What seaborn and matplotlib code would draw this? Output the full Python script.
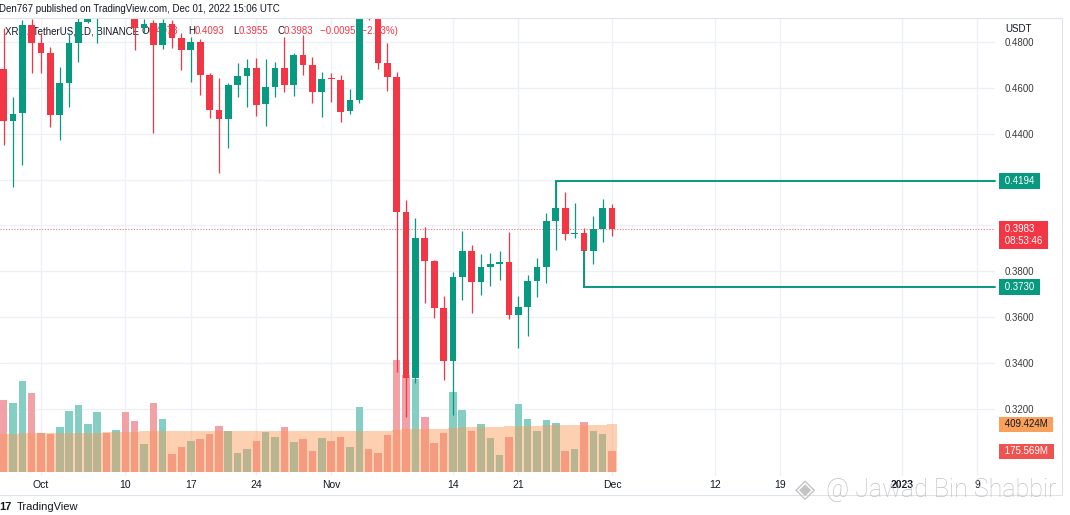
import matplotlib
matplotlib.use("Agg")
import matplotlib.pyplot as plt
import matplotlib.dates as mdates
import matplotlib.transforms as mtransforms
import numpy as np
import pandas as pd
import seaborn as sns

# XRP/USDT daily candles, 27 Sep 2022 -> 1 Dec 2022
# (values above ~0.49 sit off the top of the visible chart, so they are rough guesses)
dates = pd.date_range("2022-09-27", "2022-12-01", freq="D")

opens = [0.4683, 0.4458, 0.4490, 0.4876, 0.4798, 0.4752, 0.4483, 0.4621, 0.4796, 0.4890,
         0.4950, 0.5080, 0.5020, 0.5060, 0.4990, 0.4862, 0.4883, 0.4788, 0.4880, 0.4817,
         0.4766, 0.4803, 0.4657, 0.4504, 0.4466, 0.4612, 0.4653, 0.4686, 0.4529, 0.4603,
         0.4689, 0.4612, 0.4745, 0.4701, 0.4584, 0.4641, 0.4635, 0.4500, 0.4548, 0.5120,
         0.5060, 0.4708, 0.4647, 0.4060, 0.3333, 0.3944, 0.3846, 0.3638, 0.3410, 0.3776,
         0.3889, 0.3755, 0.3820, 0.3832, 0.3842, 0.3609, 0.3645, 0.3758, 0.3817, 0.4020,
         0.4078, 0.3962, 0.3965, 0.3889, 0.3983, 0.4078]
highs = [0.4862, 0.4561, 0.4897, 0.4902, 0.4841, 0.4781, 0.4693, 0.4841, 0.4930, 0.5000,
         0.5130, 0.5150, 0.5100, 0.5110, 0.5020, 0.4900, 0.4897, 0.4900, 0.4897, 0.4841,
         0.4822, 0.4813, 0.4666, 0.4643, 0.4620, 0.4708, 0.4726, 0.4730, 0.4726, 0.4715,
         0.4822, 0.4755, 0.4832, 0.4737, 0.4672, 0.4667, 0.4657, 0.4596, 0.5180, 0.5220,
         0.5100, 0.4798, 0.4672, 0.4111, 0.4031, 0.3992, 0.3850, 0.3692, 0.3798, 0.3977,
         0.3915, 0.3876, 0.3881, 0.3890, 0.3973, 0.3692, 0.3784, 0.3857, 0.4053, 0.4194,
         0.4148, 0.4097, 0.3988, 0.4041, 0.4116, 0.4093]
lows = [0.4351, 0.4169, 0.4264, 0.4666, 0.4666, 0.4431, 0.4373, 0.4519, 0.4715, 0.4885,
        0.4798, 0.4990, 0.4960, 0.4940, 0.4766, 0.4841, 0.4403, 0.4770, 0.4774, 0.4679,
        0.4628, 0.4570, 0.4468, 0.4228, 0.4337, 0.4560, 0.4519, 0.4478, 0.4434, 0.4560,
        0.4583, 0.4565, 0.4657, 0.4536, 0.4475, 0.4541, 0.4453, 0.4487, 0.4534, 0.4897,
        0.4682, 0.4589, 0.3362, 0.3165, 0.3311, 0.3660, 0.3595, 0.3325, 0.3172, 0.3675,
        0.3617, 0.3696, 0.3736, 0.3762, 0.3590, 0.3464, 0.3517, 0.3686, 0.3748, 0.3893,
        0.3937, 0.3944, 0.3730, 0.3832, 0.3929, 0.3955]
closes = [0.4456, 0.4487, 0.4876, 0.4798, 0.4752, 0.4483, 0.4621, 0.4796, 0.4890, 0.4950,
          0.5080, 0.5020, 0.5060, 0.4990, 0.4862, 0.4880, 0.4788, 0.4883, 0.4817, 0.4766,
          0.4800, 0.4657, 0.4504, 0.4466, 0.4612, 0.4653, 0.4686, 0.4526, 0.4603, 0.4689,
          0.4612, 0.4745, 0.4701, 0.4584, 0.4640, 0.4638, 0.4497, 0.4548, 0.5120, 0.5060,
          0.4708, 0.4647, 0.4060, 0.3333, 0.3944, 0.3846, 0.3638, 0.3410, 0.3776, 0.3889,
          0.3755, 0.3820, 0.3830, 0.3842, 0.3609, 0.3645, 0.3758, 0.3817, 0.4020, 0.4078,
          0.3962, 0.3965, 0.3889, 0.3983, 0.4078, 0.3983]

# volume and its moving average, in millions
volume_m = [621, 592, 786, 679, 332, 327, 390, 526, 578, 410,
            517, 338, 361, 514, 439, 240, 598, 454, 150, 217,
            266, 286, 327, 396, 355, 165, 197, 269, 347, 303,
            384, 254, 283, 179, 289, 269, 298, 217, 558, 197,
            159, 321, 968, 840, 800, 471, 251, 332, 694, 535,
            355, 413, 289, 145, 303, 590, 457, 353, 448, 425,
            179, 197, 434, 355, 327, 175.569]
volume_ma_m = [330, 331, 332, 332, 333, 333, 336, 337, 338, 338,
               339, 340, 341, 346, 348, 350, 351, 352, 354, 355,
               355, 355, 356, 355, 354, 353, 353, 352, 352, 353,
               353, 354, 355, 355, 355, 356, 356, 355, 356, 357,
               356, 356, 362, 366, 369, 370, 370, 371, 380, 384,
               386, 389, 390, 391, 392, 394, 398, 400, 402, 403,
               404, 405, 406, 407, 408, 409.424]

price_grid = [0.32, 0.34, 0.36, 0.38, 0.40, 0.42, 0.44, 0.46, 0.48]
# 0.4000 and 0.4200 are hidden under the price boxes in the original
price_labels = [0.32, 0.34, 0.36, 0.38, 0.44, 0.46, 0.48]
resistance = 0.4194
resistance_date = "2022-11-25"
support = 0.3730
support_date = "2022-11-28"
last_price = 0.3983

tick_dates = ["2022-10-01", "2022-10-10", "2022-10-17", "2022-10-24", "2022-11-01", "2022-11-14",
              "2022-11-21", "2022-12-01", "2022-12-12", "2022-12-19", "2023-01-01", "2023-01-09"]
tick_labels = ["Oct", "10", "17", "24", "Nov", "14", "21", "Dec", "12", "19", "2023", "9"]

UP = "#089981"
DOWN = "#f23645"
TXT = "#131722"

sns.set_theme(style="white")
plt.rcParams["font.family"] = ["Liberation Sans", "DejaVu Sans"]

W, H = 1070, 515
fig = plt.figure(figsize=(W / 100, H / 100), dpi=100)
fig.patch.set_facecolor("white")

# chart pane in image pixels: x 0..995, y 18..476
ax_vol = fig.add_axes([0, 1 - 476 / H, 995 / W, (476 - 18) / H])
ax = ax_vol.twinx()
ax.set_zorder(ax_vol.get_zorder() + 1)
ax.patch.set_visible(False)

x = mdates.date2num(dates)
o = np.array(opens)
h = np.array(highs)
l = np.array(lows)
c = np.array(closes)
up = c >= o

# ---- volume pane (seaborn bars + MA area)
vol_df = pd.DataFrame({"date": x, "volume": np.array(volume_m) * 1e6,
                       "dir": np.where(up, "up", "down")})
sns.barplot(data=vol_df, x="date", y="volume", hue="dir", hue_order=["up", "down"],
            palette={"up": "#84cec3", "down": "#f2a1a6"}, native_scale=True, dodge=False,
            width=0.8, errorbar=None, legend=False, saturation=1, linewidth=0, ax=ax_vol)
xs = np.append(x - 0.5, x[-1] + 0.5)
ma = np.array(volume_ma_m) * 1e6
ax_vol.fill_between(xs, 0, np.append(ma, ma[-1]), step="post", color="#fa9852",
                    alpha=0.45, linewidth=0, zorder=2)

ax_vol.set_ylim(-37.3e6, 3933.6e6)
ax_vol.set_xlim(x[0] - 0.385, x[0] + 105.92)
ax.set_ylim(0.2906, 0.4906)

# grid
ax_vol.set_xticks(mdates.date2num(pd.to_datetime(tick_dates)))
ax_vol.set_xticklabels(tick_labels)
ax_vol.grid(axis="x", color="#eef0f5", linewidth=1)
ax_vol.set_axisbelow(True)
grid_tr = mtransforms.blended_transform_factory(ax_vol.transAxes, ax.transData)
for p in price_grid:
    ax_vol.plot([0, 1], [p, p], transform=grid_tr, color="#eef0f5", lw=1, zorder=0)
ax_vol.set_yticks([])
ax_vol.set(xlabel="", ylabel="")
ax_vol.tick_params(axis="x", length=0, pad=3, labelsize=7.5, labelcolor=TXT)
for lab in ax_vol.get_xticklabels():
    if lab.get_text() == "2023":
        lab.set_fontweight("bold")

# ---- candles
colors = np.where(up, UP, DOWN)
ax.vlines(x, l, h, colors=colors, linewidth=0.9, zorder=3)
body = np.maximum(np.abs(c - o), 0.0004)
ax.bar(x, body, bottom=np.minimum(o, c), width=0.72, color=colors, linewidth=0, zorder=4)

# last price dotted line
ax.axhline(last_price, color=DOWN, lw=0.8, ls=(0, (1, 1.5)), alpha=0.7, zorder=2)

# drawn support / resistance lines
xmax = ax_vol.get_xlim()[1]
rx = mdates.date2num(pd.Timestamp(resistance_date))
sx = mdates.date2num(pd.Timestamp(support_date))
ri = list(dates).index(pd.Timestamp(resistance_date))
si = list(dates).index(pd.Timestamp(support_date))
ax.plot([rx, rx, xmax], [max(o[ri], c[ri]), resistance, resistance], color=UP, lw=1.4, zorder=5,
        clip_on=False, solid_joinstyle="miter")
ax.plot([sx, sx, xmax], [min(o[si], c[si]), support, support], color=UP, lw=1.4, zorder=5,
        clip_on=False, solid_joinstyle="miter")

# price scale
ax.set_yticks(price_labels)
ax.set_yticklabels([f"{p:.4f}" for p in price_labels])
ax.tick_params(axis="y", length=0, pad=7, labelsize=7, labelcolor="#3a3a3a")
for a in (ax, ax_vol):
    for s in a.spines.values():
        s.set_visible(False)

px = mtransforms.Affine2D().scale(1 / W, -1 / H).translate(0, 1) + fig.transFigure
lab_price = mtransforms.blended_transform_factory(px, ax.transData)
lab_vol = mtransforms.blended_transform_factory(px, ax_vol.transData)

ax.text(1002, resistance, " 0.4194 ", transform=lab_price, color="white", fontsize=7,
        va="center", ha="left", clip_on=False, zorder=10,
        bbox=dict(boxstyle="square,pad=0.3", fc=UP, ec="none"))
ax.text(1002, support, " 0.3730 ", transform=lab_price, color="white", fontsize=7,
        va="center", ha="left", clip_on=False, zorder=10,
        bbox=dict(boxstyle="square,pad=0.3", fc=UP, ec="none"))
up_shift = mtransforms.ScaledTranslation(0, 5 / 100, fig.dpi_scale_trans)
ax.text(1002, last_price, " 0.3983  \n 08:53:46 ", transform=lab_price + up_shift, color="white",
        fontsize=7, va="top", ha="left", linespacing=1.25, clip_on=False, zorder=10,
        bbox=dict(boxstyle="square,pad=0.3", fc=DOWN, ec="none"))
ax_vol.text(1002, volume_ma_m[-1] * 1e6, " 409.424M ", transform=lab_vol, color=TXT, fontsize=7,
            va="center", ha="left", clip_on=False, zorder=10,
            bbox=dict(boxstyle="square,pad=0.3", fc="#f9a05a", ec="none"))
ax_vol.text(1002, volume_m[-1] * 1e6, " 175.569M ", transform=lab_vol, color="white", fontsize=7,
            va="center", ha="left", clip_on=False, zorder=10,
            bbox=dict(boxstyle="square,pad=0.3", fc="#ef5350", ec="none"))
fig.text(1005, 29, "USDT", transform=px, color=TXT, fontsize=7, va="center", ha="left")

# header and legend line (legend sits under the candles)
fig.text(-1, 9, "Den767 published on TradingView.com, Dec 01, 2022 15:06 UTC", transform=px,
         color=TXT, fontsize=7, va="center", ha="left")
legend_parts = [(5, "XRP / TetherUS, 1D, BINANCE", TXT), (142, "O", TXT), (149, "0.4078", DOWN),
                (188, "H", TXT), (195, "0.4093", DOWN), (233, "L", TXT), (239, "0.3955", DOWN),
                (277, "C", TXT), (284, "0.3983", DOWN), (320, "\u22120.0095 (\u22122.33%)", DOWN)]
for xp, s, col in legend_parts:
    ax.text(xp, 31, s, transform=px, color=col, fontsize=7, va="center", ha="left",
            zorder=1, clip_on=False)

# frame lines
fig.add_artist(plt.Line2D([0, 1062], [18, 18], transform=px, color="#e0e3eb", lw=0.8))
fig.add_artist(plt.Line2D([0, 1062], [495, 495], transform=px, color="#e0e3eb", lw=0.8))
fig.add_artist(plt.Line2D([1062, 1062], [18, 495], transform=px, color="#e0e3eb", lw=0.8))

# footer logo + watermark
fig.text(-1, 507, "17", transform=px, color=TXT, fontsize=8, fontweight="bold", va="center", ha="left")
fig.text(17, 507, "TradingView", transform=px, color=TXT, fontsize=8, va="center", ha="left")
fig.text(795, 490, "\u25c8", transform=px, color="#c4c4c4", fontsize=19, va="center", ha="left",
         family="DejaVu Sans")
fig.text(826, 490, "@ Jawad Bin Shabbir", transform=px, color="#bcbcbc", fontsize=18,
         va="center", ha="left", family=["Roboto", "DejaVu Sans"], fontweight="light", alpha=0.9)

fig.savefig("out.png", dpi=100, facecolor="white")
